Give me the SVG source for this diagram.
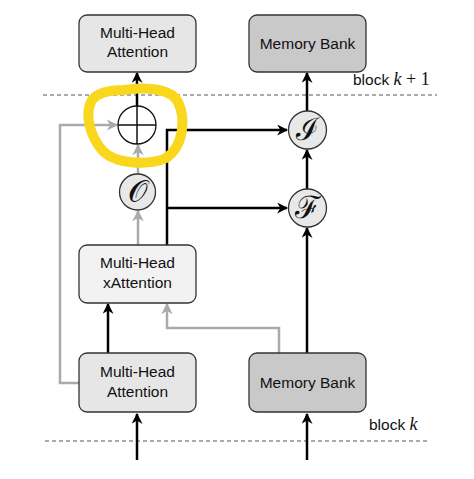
<svg xmlns="http://www.w3.org/2000/svg" width="474" height="479" viewBox="0 0 474 479">
<defs>
<style>
.box{stroke:#333;stroke-width:1.3}
.mha{fill:#e6e6e6}
.xa{fill:#f2f2f2}
.mb{fill:#c9c9c9}
.lbl{font-family:"Liberation Sans",Arial,sans-serif;font-size:15.5px;fill:#111;text-anchor:middle}
.blk{font-family:"Liberation Sans",Arial,sans-serif;font-size:15.5px;fill:#111}
.math{font-family:"Liberation Serif","DejaVu Serif",serif;font-style:italic;font-size:18px}
.rm{font-family:"Liberation Serif","DejaVu Serif",serif;font-size:18px}
.op{stroke:#333;stroke-width:1.3;fill:#e8e8e8}
.sym{font-family:"DejaVu Serif","Liberation Serif",serif;font-size:31px;fill:#111;text-anchor:middle}
.k{fill:none;stroke:#000;stroke-width:2.5}
.g{fill:none;stroke:#aaa;stroke-width:2.5}
.dash{stroke:#555;stroke-width:1.2;stroke-dasharray:4 3}
</style>
<marker id="ak" viewBox="0 0 10 10" refX="9" refY="5" markerWidth="4.4" markerHeight="4.4" markerUnits="strokeWidth" orient="auto">
<path d="M0,0 L10,5 L0,10 L3,5 Z" fill="#000"/>
</marker>
<marker id="ag" viewBox="0 0 10 10" refX="9" refY="5" markerWidth="4.6" markerHeight="4.6" markerUnits="strokeWidth" orient="auto">
<path d="M0,0 L10,5 L0,10 L3,5 Z" fill="#aaa"/>
</marker>
</defs>
<rect width="474" height="479" fill="#fff"/>

<g id="dividers">
<line class="dash" x1="43" y1="95" x2="437" y2="95"/>
<line class="dash" x1="45" y1="441" x2="429" y2="441"/>
<text class="blk" x="353" y="85">block <tspan class="math">k</tspan><tspan class="rm"> + 1</tspan></text>
<text class="blk" x="369" y="430">block <tspan class="math">k</tspan></text>
</g>

<g id="connectors">
<path class="k" d="M137,460 L137,414" marker-end="url(#ak)"/>
<path class="k" d="M307,460 L307,414" marker-end="url(#ak)"/>
<path class="k" d="M108,353 L108,304" marker-end="url(#ak)"/>
<path class="k" d="M167,245 L167,130 L287,130" marker-end="url(#ak)"/>
<path class="k" d="M167,208 L287,208" marker-end="url(#ak)"/>
<path class="k" d="M307,353 L307,228" marker-end="url(#ak)"/>
<path class="k" d="M307,189 L307,150" marker-end="url(#ak)"/>
<path class="k" d="M307,111 L307,73" marker-end="url(#ak)"/>
<path class="k" d="M137,106 L137,73" marker-end="url(#ak)"/>
<path class="g" d="M79,383 L60,383 L60,125 L117,125" marker-end="url(#ag)"/>
<path class="g" d="M138,245 L138,211" marker-end="url(#ag)"/>
<path class="g" d="M138,174 L138,145" marker-end="url(#ag)"/>
<path class="g" d="M279,353 L279,328 L167,328 L167,304" marker-end="url(#ag)"/>
</g>

<g id="mha-top">
<rect class="box mha" x="79" y="15" width="117" height="57" rx="8"/>
<text class="lbl" x="137.5" y="38">Multi-Head</text>
<text class="lbl" x="137.5" y="57">Attention</text>
</g>
<g id="mb-top">
<rect class="box mb" x="249" y="15" width="117" height="57" rx="8"/>
<text class="lbl" x="307.5" y="48.5">Memory Bank</text>
</g>
<g id="plus">
<circle cx="137" cy="125" r="19" fill="#fff" stroke="#111" stroke-width="1.3"/>
<path d="M137,106 L137,144 M118,125 L156,125" stroke="#111" stroke-width="1.5"/>
</g>
<g id="op-O">
<circle class="op" cx="137.5" cy="192" r="18"/>
<text class="sym" x="137.5" y="202">𝒪</text>
</g>
<g id="op-I">
<circle class="op" cx="307.5" cy="130" r="19"/>
<text class="sym" x="307.5" y="140">ℐ</text>
</g>
<g id="op-F">
<circle class="op" cx="307.5" cy="208" r="19"/>
<text class="sym" x="307.5" y="218">ℱ</text>
</g>
<g id="xattn">
<rect class="box xa" x="79" y="245" width="117" height="58" rx="8"/>
<text class="lbl" x="137.5" y="268">Multi-Head</text>
<text class="lbl" x="137.5" y="288">xAttention</text>
</g>
<g id="mha-bottom">
<rect class="box mha" x="79" y="353" width="117" height="59" rx="8"/>
<text class="lbl" x="137.5" y="377">Multi-Head</text>
<text class="lbl" x="137.5" y="397">Attention</text>
</g>
<g id="mb-bottom">
<rect class="box mb" x="249" y="353" width="117" height="59" rx="8"/>
<text class="lbl" x="307.5" y="388">Memory Bank</text>
</g>

<g id="highlight">
<path d="M124,90 C150,86 172,90 178,102 C186,118 184,146 166,158 C148,166 114,164 102,150 C90,136 84,114 92,100 C98,92 112,90 124,90" fill="none" stroke="#f9d71c" stroke-width="10" stroke-linecap="round"/>
</g>
</svg>
